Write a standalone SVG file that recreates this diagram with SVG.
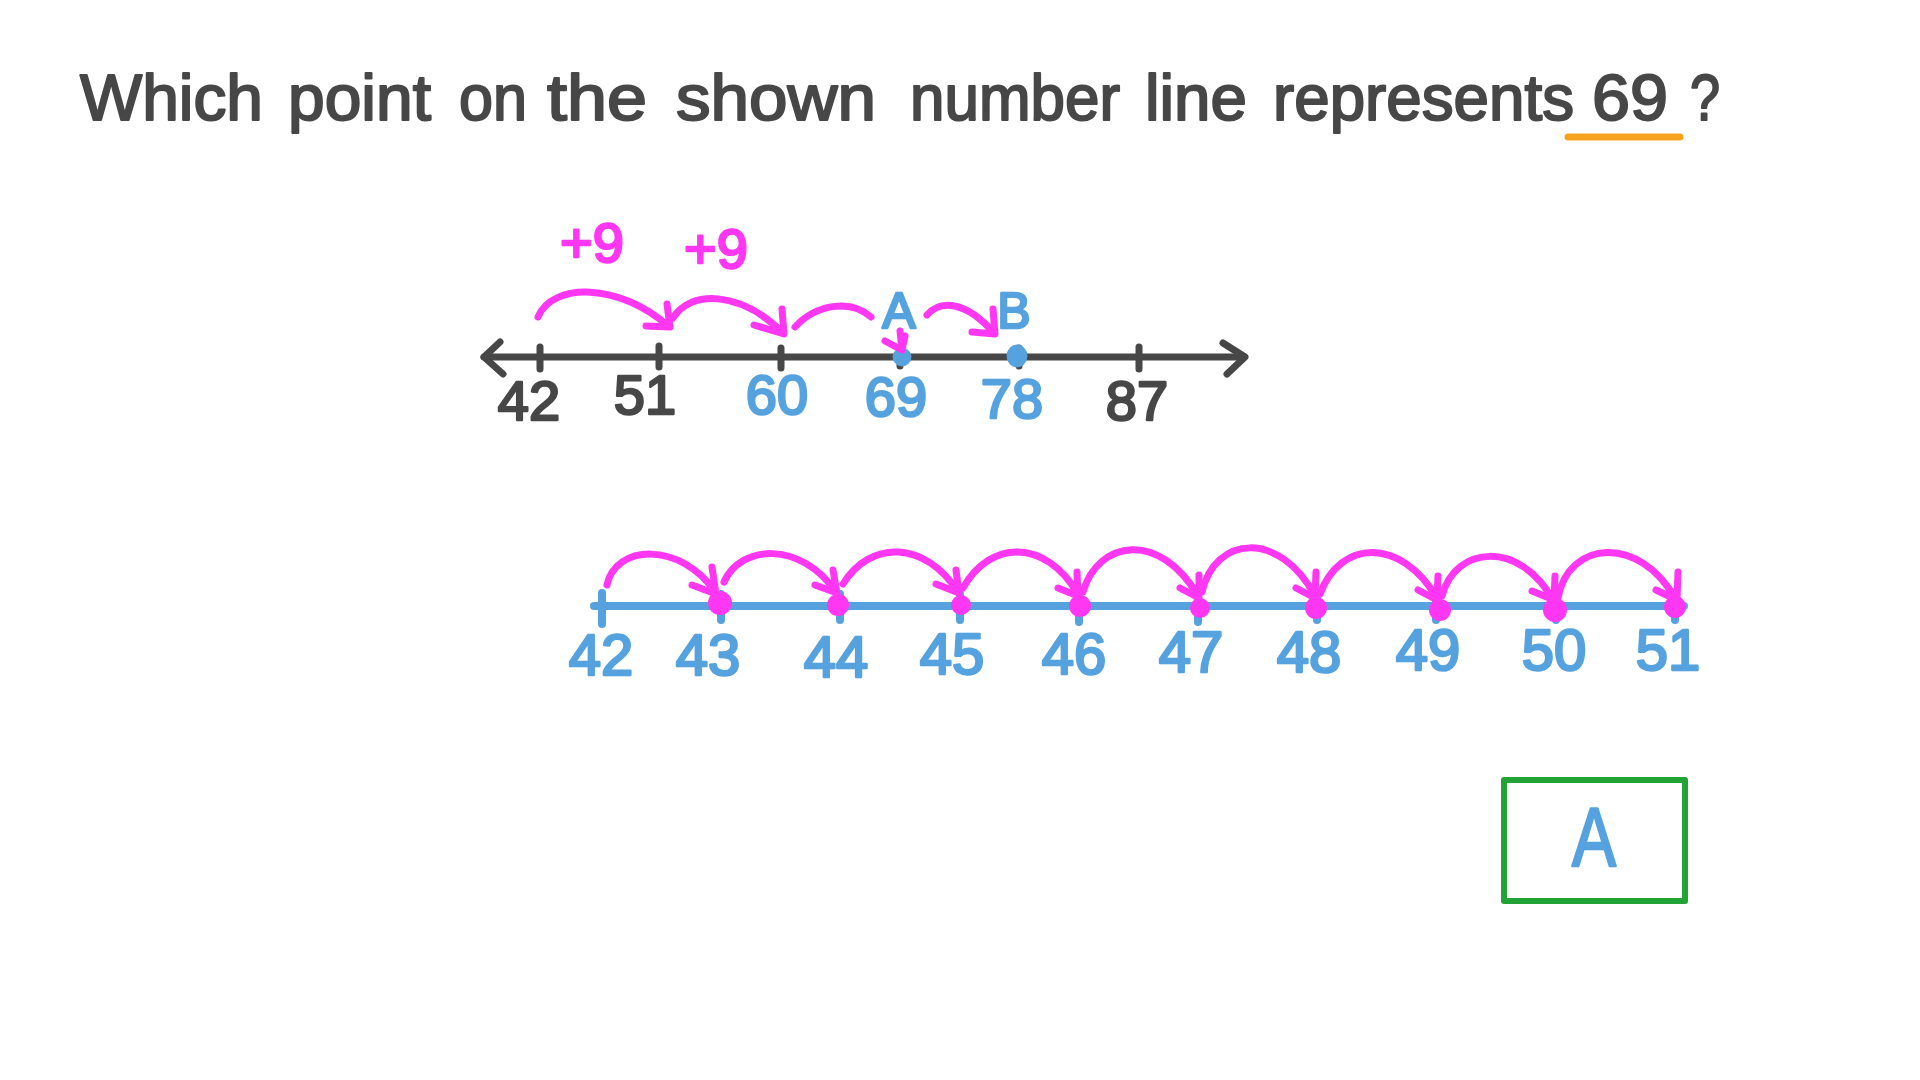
<svg xmlns="http://www.w3.org/2000/svg" width="1920" height="1080" viewBox="0 0 1920 1080">
<style>
.ttl{font-family:"Liberation Sans",Arial,sans-serif;font-size:64px;fill:#474747;stroke:#474747;stroke-width:2;stroke-linejoin:round}
.lbl{font-family:"Liberation Sans",Arial,sans-serif;font-size:56px;text-anchor:middle;stroke-width:2.5;stroke-linejoin:round}
.dk{fill:#474747;stroke:#474747}
.bl{fill:#55A2DF;stroke:#55A2DF}
.mg{fill:#FF36F2;stroke:#FF36F2}
.axis{stroke:#474747;stroke-width:7;stroke-linecap:round;stroke-linejoin:round;fill:none}
.baxis{stroke:#55A2DF;stroke-width:8;stroke-linecap:round;stroke-linejoin:round;fill:none}
.arc{stroke:#FF36F2;stroke-width:7;stroke-linecap:round;stroke-linejoin:round;fill:none}
</style>
<rect width="1920" height="1080" fill="#ffffff"/>

<g id="title">
<text class="ttl" x="80" y="120" textLength="183" lengthAdjust="spacingAndGlyphs">Which</text>
<text class="ttl" x="288" y="120" textLength="143" lengthAdjust="spacingAndGlyphs">point</text>
<text class="ttl" x="459" y="120" textLength="68" lengthAdjust="spacingAndGlyphs">on</text>
<text class="ttl" x="547" y="120" textLength="100" lengthAdjust="spacingAndGlyphs">the</text>
<text class="ttl" x="676" y="120" textLength="200" lengthAdjust="spacingAndGlyphs">shown</text>
<text class="ttl" x="910" y="120" textLength="210" lengthAdjust="spacingAndGlyphs">number</text>
<text class="ttl" x="1145" y="120" textLength="102" lengthAdjust="spacingAndGlyphs">line</text>
<text class="ttl" x="1273" y="120" textLength="301" lengthAdjust="spacingAndGlyphs">represents</text>
<text class="ttl" x="1592" y="120" textLength="76" lengthAdjust="spacingAndGlyphs">69</text>
<text class="ttl" x="1690" y="120" textLength="30" lengthAdjust="spacingAndGlyphs">?</text>
<path d="M1568,137 L1680,137" stroke="#F5A31C" stroke-width="7" stroke-linecap="round"/>
</g>

<g id="top-number-line">
<path class="axis" d="M484,357 L1244,357"/>
<path class="axis" d="M500,342 L484,357 L503,374"/>
<path class="axis" d="M1223,343 L1245,357 L1227,374"/>
<path class="axis" d="M540,347 L540,369 M659,346 L659,367 M781,348 L781,368 M900,348 L900,366 M1019,348 L1019,366 M1139,347 L1139,369"/>
<circle class="bl" cx="902" cy="357" r="9"/>
<ellipse class="bl" cx="1017" cy="356" rx="10" ry="11"/>
<text class="lbl dk" x="529" y="420">42</text>
<text class="lbl dk" x="645" y="414">51</text>
<text class="lbl bl" x="777" y="414">60</text>
<text class="lbl bl" x="896" y="416">69</text>
<text class="lbl bl" x="1012" y="418">78</text>
<text class="lbl dk" x="1137" y="420">87</text>
<text class="lbl bl" x="899" y="328" style="font-size:50px">A</text>
<text class="lbl bl" x="1014" y="328" style="font-size:50px">B</text>
<text class="lbl mg" x="592" y="262">+9</text>
<text class="lbl mg" x="716" y="268">+9</text>
</g>

<g id="bottom-number-line">
<path class="baxis" d="M594,606 L1684,606"/>
<path class="baxis" d="M602,593 L602,624"/>
<path class="baxis" d="M721,594 L721,620 M840,594 L840,620 M960,594 L960,620 M1079,594 L1079,622 M1198,594 L1198,622 M1317,594 L1317,620 M1436,594 L1436,620 M1556,594 L1556,620 M1675,594 L1675,620"/>
<g fill="#FF36F2">
<circle cx="720" cy="603" r="12"/>
<circle cx="838" cy="605" r="11"/>
<circle cx="961" cy="605" r="10"/>
<circle cx="1080" cy="606" r="11"/>
<circle cx="1200" cy="608" r="10"/>
<circle cx="1316" cy="608" r="11"/>
<circle cx="1440" cy="610" r="11"/>
<circle cx="1555" cy="610" r="12"/>
<circle cx="1675" cy="607" r="11"/>
</g>
<text class="lbl bl" x="601" y="675" style="font-size:58px">42</text>
<text class="lbl bl" x="708" y="675" style="font-size:58px">43</text>
<text class="lbl bl" x="836" y="677" style="font-size:58px">44</text>
<text class="lbl bl" x="952" y="674" style="font-size:58px">45</text>
<text class="lbl bl" x="1074" y="674" style="font-size:58px">46</text>
<text class="lbl bl" x="1191" y="672" style="font-size:58px">47</text>
<text class="lbl bl" x="1309" y="672" style="font-size:58px">48</text>
<text class="lbl bl" x="1428" y="670" style="font-size:58px">49</text>
<text class="lbl bl" x="1554" y="670" style="font-size:58px">50</text>
<text class="lbl bl" x="1668" y="670" style="font-size:58px">51</text>
</g>

<g id="answer-box">
<rect x="1504" y="780" width="181" height="121" fill="none" stroke="#22A335" stroke-width="6" stroke-linejoin="round"/>
<text class="lbl bl" x="1594" y="866" style="font-size:84px" textLength="44" lengthAdjust="spacingAndGlyphs">A</text>
</g>

<g id="connectors">
<path class="arc" d="M538,317 C552,282 620,283 668,326 M646,326 L670,327 L667,304"/>
<path class="arc" d="M673,318 C690,290 740,290 783,333 M754,325 L784,334 L782,309"/>
<path class="arc" d="M795,327 C815,305 850,298 871,317"/>
<path class="arc" d="M900,331 L902,349 M885,341 L902,350 L905,336"/>
<path class="arc" d="M927,315 C940,300 965,300 994,333 M972,332 L995,334 L993,309"/>
<path class="arc" d="M607,585 C615,545 680,540 716,593 M692,585 L716,594 L712,567"/>
<path class="arc" d="M724,582 C740,545 800,540 836,592 M815,585 L837,593 L833,570"/>
<path class="arc" d="M843,584 C870,540 925,540 958,592 M936,584 L959,593 L956,570"/>
<path class="arc" d="M963,588 C990,540 1045,538 1078,594 M1058,588 L1078,596 L1077,572"/>
<path class="arc" d="M1083,592 C1098,540 1160,530 1198,596 M1180,588 L1199,598 L1199,575"/>
<path class="arc" d="M1202,592 C1215,535 1280,530 1315,596 M1296,588 L1315,598 L1316,572"/>
<path class="arc" d="M1320,594 C1340,540 1400,536 1437,598 M1418,590 L1437,600 L1438,576"/>
<path class="arc" d="M1442,596 C1455,545 1520,540 1553,600 M1532,591 L1554,600 L1555,576"/>
<path class="arc" d="M1558,598 C1568,540 1640,534 1676,600 M1656,590 L1677,600 L1678,572"/>
</g>
</svg>
